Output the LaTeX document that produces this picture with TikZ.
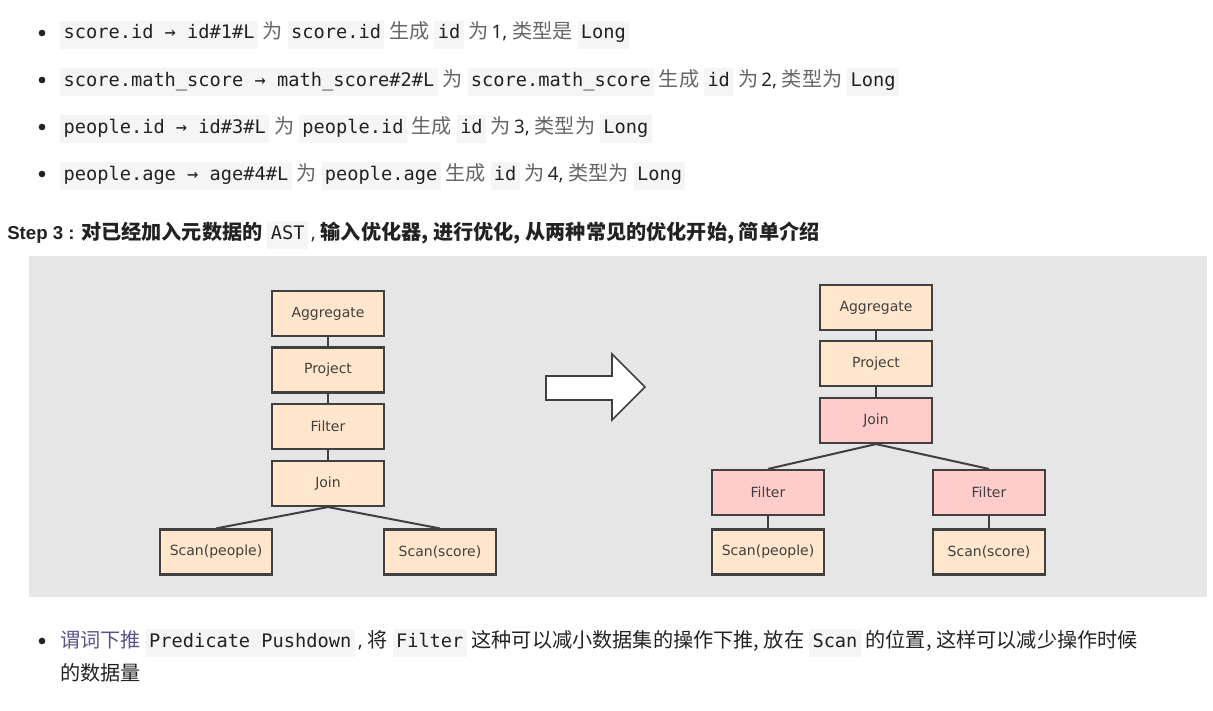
\documentclass[tikz,border=0pt]{standalone}
\usepackage{fontspec}
\setmainfont{Noto Sans}
\setmonofont{DejaVu Sans Mono}
\newfontfamily\zhf[Scale=1.08]{Noto Sans CJK SC}
\newfontfamily\boxf{DejaVu Sans}
\newfontfamily\stepf{Liberation Sans}
\usetikzlibrary{positioning}
\definecolor{panel}{HTML}{E6E6E6}
\definecolor{beige}{HTML}{FFE6CC}
\definecolor{pinkb}{HTML}{FFCCCC}
\definecolor{edge}{HTML}{404040}
\definecolor{codebg}{HTML}{F5F5F5}
\definecolor{txt}{HTML}{222222}
\definecolor{gtx}{HTML}{666666}
\definecolor{purp}{HTML}{5E528C}
\newcommand{\cd}[1]{{\setlength{\fboxsep}{2.5pt}\colorbox{codebg}{\strut\ttfamily\mdseries\color{txt}#1}}}
\newcommand{\zh}[1]{{\zhf\color{gtx}#1}}
\newcommand{\zk}[1]{{\zhf\color{txt}#1}}
\begin{document}
\begin{tikzpicture}[x=0.75pt,y=-0.75pt,
  op/.style={draw=edge,line width=1.6pt,fill=beige,minimum width=112*0.75pt,minimum height=45*0.75pt,inner sep=0pt,font=\boxf\fontsize{10.5}{12}\selectfont,text=edge},
  pk/.style={op,fill=pinkb},
  ln/.style={draw=edge,line width=1.5pt},
  row/.style={anchor=base west,inner sep=0pt,font=\fontsize{14}{16}\selectfont,text=txt},
  dot/.style={circle,fill=txt,inner sep=0pt,minimum size=5pt}]
\useasboundingbox (0,0) rectangle (1213,710);
\fill[panel] (29,256) rectangle (1207,597);
% text rows
\node[dot] (b1) at (42,33) {};
\node[row] (r1) at (60,39) {\cd{score.id → id\#1\#L} \zh{为} \cd{score.id} \zh{生成} \cd{id} \zh{为}\,1, \zh{类型是} \cd{Long}};
\node[dot] (b2) at (42,80) {};
\node[row] (r2) at (60,86) {\cd{score.math\_score → math\_score\#2\#L} \zh{为} \cd{score.math\_score} \zh{生成} \cd{id} \zh{为}\,2, \zh{类型为} \cd{Long}};
\node[dot] (b3) at (42,127) {};
\node[row] (r3) at (60,133) {\cd{people.id → id\#3\#L} \zh{为} \cd{people.id} \zh{生成} \cd{id} \zh{为}\,3, \zh{类型为} \cd{Long}};
\node[dot] (b4) at (42,174) {};
\node[row] (r4) at (60,180) {\cd{people.age → age\#4\#L} \zh{为} \cd{people.age} \zh{生成} \cd{id} \zh{为}\,4, \zh{类型为} \cd{Long}};
\node[row,anchor=base west,font=\bfseries\fontsize{14}{16}\selectfont] (s3) at (7,239) {{\stepf\bfseries Step 3 :} {\zhf 对已经加入元数据的} \cd{AST}\,, {\zhf 输入优化器, 进行优化, 从两种常见的优化开始, 简单介绍}};
\node[dot] (b5) at (42,641) {};
\node[row] (r5) at (60,647) {{\zhf\color{purp}谓词下推} \cd{Predicate Pushdown}\,, \zk{将} \cd{Filter} \zk{这种可以减小数据集的操作下推, 放在} \cd{Scan} \zk{的位置, 这样可以减少操作时候}};
\node[row] (r6) at (60,680) {\zk{的数据量}};
% left tree
\node[op] (la) at (328,313.5) {Aggregate};
\node[op] (lp) at (328,370) {Project};
\node[op] (lf) at (328,426.5) {Filter};
\node[op] (lj) at (328,483.5) {Join};
\node[op] (ls1) at (216,552) {Scan(people)};
\node[op] (ls2) at (440,552) {Scan(score)};
\draw[ln] (la) -- (lp); \draw[ln] (lp) -- (lf); \draw[ln] (lf) -- (lj);
\draw[ln] (lj.south) -- (ls1.north); \draw[ln] (lj.south) -- (ls2.north);
% arrow
\draw[edge,line width=1.3pt,fill=white] (546,376) -- (612,376) -- (612,354) -- (645,387) -- (612,420) -- (612,400) -- (546,400) -- cycle;
% right tree
\node[op] (ra) at (876,307.5) {Aggregate};
\node[op] (rp) at (876,363.5) {Project};
\node[pk] (rj) at (876,420.5) {Join};
\node[pk] (rf1) at (768,492.5) {Filter};
\node[pk] (rf2) at (989,492.5) {Filter};
\node[op] (rs1) at (768,552) {Scan(people)};
\node[op] (rs2) at (989,552) {Scan(score)};
\draw[ln] (ra) -- (rp); \draw[ln] (rp) -- (rj);
\draw[ln] (rj.south) -- (rf1.north); \draw[ln] (rj.south) -- (rf2.north);
\draw[ln] (rf1) -- (rs1); \draw[ln] (rf2) -- (rs2);
\end{tikzpicture}
\end{document}
